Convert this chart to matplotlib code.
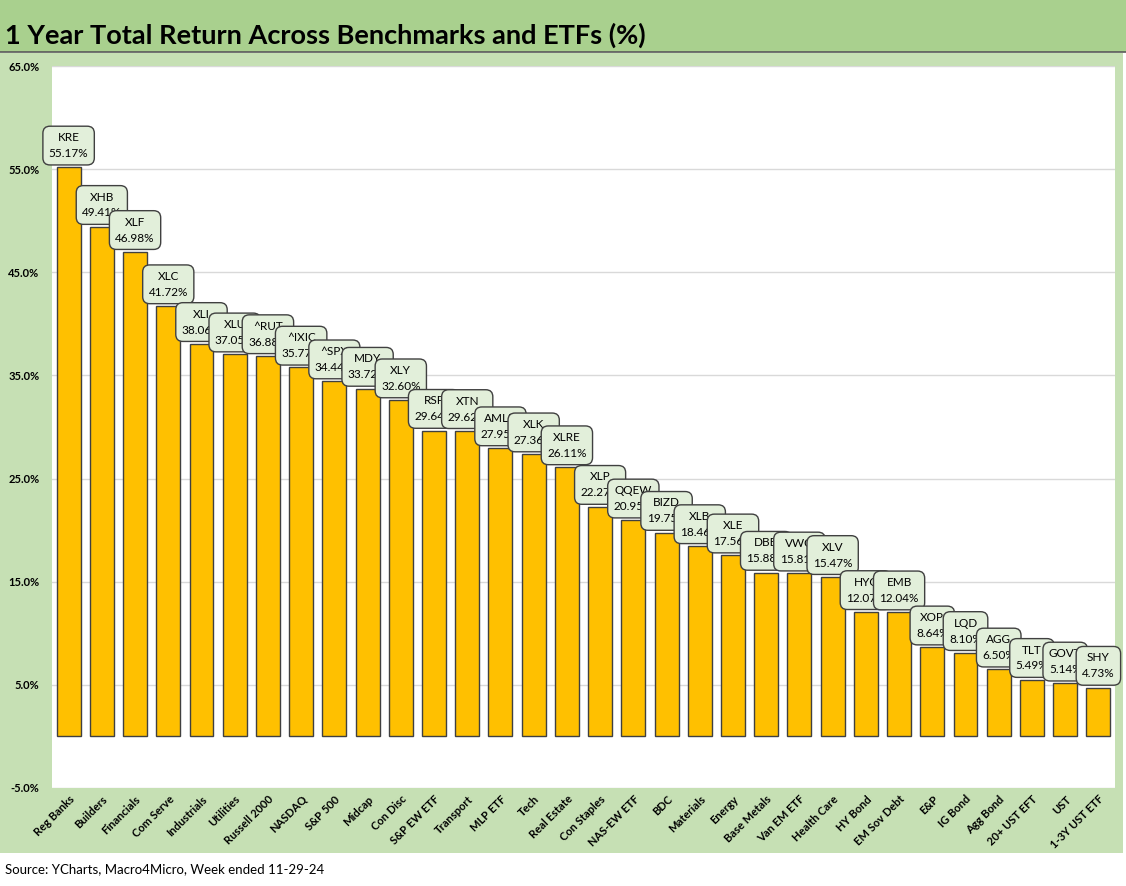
import matplotlib.pyplot as plt
from matplotlib.patches import Rectangle
from matplotlib.ticker import FuncFormatter

plt.rcParams['font.family'] = ['Lato', 'DejaVu Sans']

categories = ["Reg Banks", "Builders", "Financials", "Com Serve", "Industrials", "Utilities",
              "Russell 2000", "NASDAQ", "S&P 500", "Midcap", "Con Disc", "S&P EW ETF",
              "Transport", "MLP ETF", "Tech", "Real Estate", "Con Staples", "NAS-EW ETF",
              "BDC", "Materials", "Energy", "Base Metals", "Van EM ETF", "Health Care",
              "HY Bond", "EM Sov Debt", "E&P", "IG Bond", "Agg Bond", "20+ UST EFT",
              "UST", "1-3Y UST ETF"]
tickers = ["KRE", "XHB", "XLF", "XLC", "XLI", "XLU", "^RUT", "^IXIC", "^SPX", "MDY", "XLY",
           "RSP", "XTN", "AMLP", "XLK", "XLRE", "XLP", "QQEW", "BIZD", "XLB", "XLE", "DBB",
           "VWO", "XLV", "HYG", "EMB", "XOP", "LQD", "AGG", "TLT", "GOVT", "SHY"]
returns = [55.17, 49.41, 46.98, 41.72, 38.06, 37.05, 36.88, 35.77, 34.44, 33.72, 32.60,
           29.64, 29.62, 27.95, 27.36, 26.11, 22.27, 20.95, 19.75, 18.46, 17.56, 15.88,
           15.81, 15.47, 12.07, 12.04, 8.64, 8.10, 6.50, 5.49, 5.14, 4.73]
yticks = [-5, 5, 15, 25, 35, 45, 55, 65]

W, H = 1126, 886
fig = plt.figure(figsize=(W / 100, H / 100), dpi=100)

# background bands (title strip + chart area), kept behind the axes
fig.patches.append(Rectangle((0, 1 - 52 / H), 1, 52 / H, transform=fig.transFigure,
                             facecolor="#a9d08e", edgecolor="none", zorder=-10))
fig.patches.append(Rectangle((0, 1 - 853 / H), 1123 / W, 800 / H, transform=fig.transFigure,
                             facecolor="#c6e0b4", edgecolor="none", zorder=-10))
fig.add_artist(plt.Line2D([0, 1], [1 - 52 / H, 1 - 52 / H], transform=fig.transFigure,
                          color="#595959", lw=1.2, zorder=-5))

fig.text(5 / W, 1 - 35 / H, "1 Year Total Return Across Benchmarks and ETFs (%)",
         fontsize=19.5, fontweight="bold", va="center", ha="left")
fig.text(5 / W, 1 - 869 / H, "Source: YCharts, Macro4Micro, Week ended 11-29-24",
         fontsize=9.5, va="center", ha="left")

ax = fig.add_axes([52 / W, 1 - 788 / H, (1115 - 52) / W, (788 - 66) / H])
ax.set_facecolor("white")

x = list(range(len(returns)))
ax.bar(x, returns, width=0.72, color="#ffc000", edgecolor="#404040", linewidth=1.0, zorder=2)

for i, (t, v) in enumerate(zip(tickers, returns)):
    ax.annotate(f"{t}\n{v:.2f}%", xy=(i, v), xytext=(0, 6), textcoords="offset points",
                ha="center", va="bottom", fontsize=8.5, linespacing=1.55, zorder=3,
                bbox=dict(boxstyle="round,pad=0.5,rounding_size=0.6", facecolor="#e2efda",
                          edgecolor="#404040", linewidth=1.0))

ax.set_xlim(-0.5, len(returns) - 0.5)
ax.set_ylim(-5, 65)
ax.set_yticks(yticks)
ax.yaxis.set_major_formatter(FuncFormatter(lambda v, p: f"{v:.1f}%"))
ax.grid(axis="y", color="#d9d9d9", linewidth=1.0, zorder=0)
ax.set_axisbelow(True)
ax.set_xticks(x)
ax.set_xticklabels(categories, rotation=45, ha="right", va="top", rotation_mode="anchor",
                   fontsize=8, fontweight="bold")
ax.tick_params(axis="both", length=0)
ax.tick_params(axis="x", pad=4)
ax.tick_params(axis="y", pad=9)
for lbl in ax.get_yticklabels():
    lbl.set_fontsize(8)
    lbl.set_fontweight("bold")
for s in ax.spines.values():
    s.set_visible(False)

fig.savefig("out.png", dpi=100, facecolor="white")
